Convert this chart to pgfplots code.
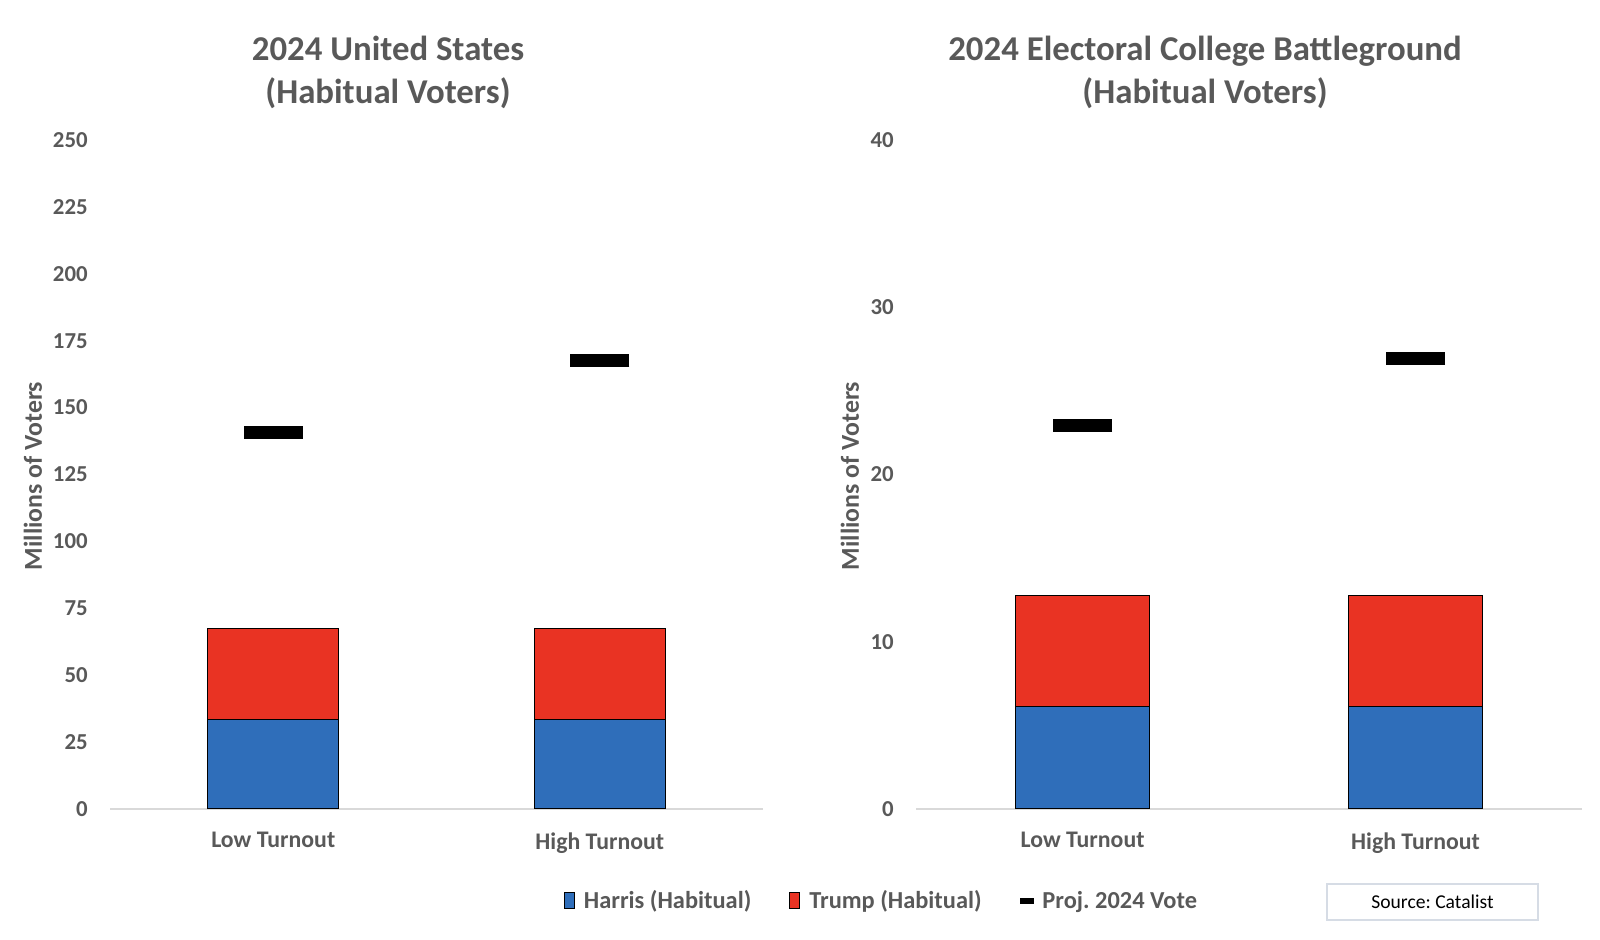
\documentclass[border=0pt]{standalone}
\usepackage{fontspec}
\setmainfont{Carlito}
\usepackage{pgfplots}
\pgfplotsset{compat=1.18}
\definecolor{harris}{HTML}{2F6EBA}
\definecolor{trump}{HTML}{E93323}
\definecolor{txt}{HTML}{595959}
\definecolor{axisgray}{HTML}{D9D9D9}
\definecolor{boxedge}{HTML}{D6DCE5}
\pgfplotsset{
  panel/.style={
    scale only axis, height=334.5pt,
    xmin=-0.5, xmax=1.5, ymin=0,
    xtick={0,1}, xticklabels={Low Turnout, High Turnout},
    axis x line=bottom, axis y line=left,
    x axis line style={draw=axisgray, line width=0.8pt, -},
    y axis line style={draw=none},
    tick style={draw=none},
    ticklabel style={font=\fontsize{11.4}{13}\selectfont\bfseries, text=txt},
    xticklabel style={font=\fontsize{11.9}{13}\selectfont\bfseries, yshift=-6pt},
    /pgf/number format/assume math mode=true,
    yticklabel style={xshift=-5.5pt},
    clip=false,
  },
  barlegend/.style={legend image code/.code={\draw[##1, draw=black, line width=0.5pt] (0pt,-3.8pt) rectangle (5pt,4pt);}},
}
\begin{document}
\frenchspacing
\begin{tikzpicture}
\useasboundingbox (0,0) rectangle (800pt,470pt);
% ---------- Left panel ----------
\begin{axis}[panel, width=326.5pt, at={(55pt,65.5pt)}, anchor=south west,
  ymax=250, ytick={0,25,...,250},
  ybar stacked, bar width=0.4,
  legend style={at={(1.183,-0.1375)}, anchor=center, draw=none, fill=none,
    font=\fontsize{12.2}{14}\selectfont\bfseries, text=txt,
    /tikz/every even column/.append style={column sep=17pt},
    /tikz/every odd column/.append style={column sep=2.5pt}},
  legend columns=3]
\addplot+[fill=harris, draw=black, line width=0.5pt, barlegend] coordinates {(0,33.5) (1,33.5)};
\addlegendentry{Harris (Habitual)}
\addplot+[fill=trump, draw=black, line width=0.5pt, barlegend] coordinates {(0,34) (1,34)};
\addlegendentry{Trump (Habitual)}
\addlegendimage{legend image code/.code={\fill[black] (0pt,-1.3pt) rectangle (6.5pt,1.5pt);}}
\addlegendentry{Proj. 2024 Vote}
\end{axis}
\begin{axis}[panel, width=326.5pt, at={(55pt,65.5pt)}, anchor=south west,
  ymax=250, hide axis]
\addplot[only marks, mark=-, mark size=14.8pt, mark options={line width=6.5pt, draw=black}] coordinates {(0,140.7) (1,167.5)};
\end{axis}
% ---------- Right panel ----------
\begin{axis}[panel, width=333pt, at={(458pt,65.5pt)}, anchor=south west,
  ymax=40, ytick={0,10,...,40},
  ybar stacked, bar width=0.4]
\addplot+[fill=harris, draw=black, line width=0.5pt] coordinates {(0,6.14) (1,6.14)};
\addplot+[fill=trump, draw=black, line width=0.5pt] coordinates {(0,6.6) (1,6.6)};
\end{axis}
\begin{axis}[panel, width=333pt, at={(458pt,65.5pt)}, anchor=south west,
  ymax=40, hide axis]
\addplot[only marks, mark=-, mark size=14.8pt, mark options={line width=6.5pt, draw=black}] coordinates {(0,22.9) (1,26.95)};
\end{axis}
% ---------- Titles and labels ----------
\node[align=center, font=\fontsize{17.4}{21.5}\selectfont\bfseries, text=txt] at (194pt,433.75pt) {2024 United States\\(Habitual Voters)};
\node[align=center, font=\fontsize{17.4}{21.5}\selectfont\bfseries, text=txt] at (602.5pt,433.75pt) {2024 Electoral College Battleground\\(Habitual Voters)};
\node[rotate=90, font=\fontsize{12.9}{14}\selectfont\bfseries, text=txt] at (16.5pt,232pt) {Millions of Voters};
\node[rotate=90, font=\fontsize{12.9}{14}\selectfont\bfseries, text=txt] at (425pt,232pt) {Millions of Voters};
\node[draw=boxedge, line width=0.8pt, minimum width=105.5pt, minimum height=18pt, inner sep=0pt,
  font=\fontsize{9.8}{11}\selectfont] at (716.25pt,19pt) {Source: Catalist};
\end{tikzpicture}
\end{document}
